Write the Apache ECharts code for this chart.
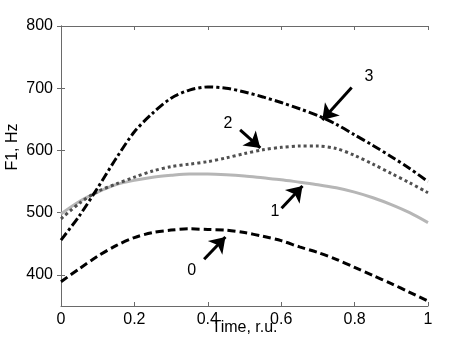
<!DOCTYPE html>
<html>
<head>
<meta charset="utf-8">
<script src="https://cdn.jsdelivr.net/npm/echarts@6/dist/echarts.min.js"></script>
<style>
  html, body { margin: 0; padding: 0; background: #fff; }
  #chart { width: 474px; height: 345px; }
</style>
</head>
<body>
<div id="chart"></div>
<script>
// Normalised time axis (relative units)
const timeRU = [0, 0.05, 0.1, 0.15, 0.2, 0.25, 0.3, 0.35, 0.4, 0.45, 0.5,
                0.55, 0.6, 0.65, 0.7, 0.75, 0.8, 0.85, 0.9, 0.95, 1.0];

// F1 trajectories, Hz
const f1Curve0 = [389, 410, 430, 447, 460, 468, 472, 474, 473, 472, 468,
                  462, 455, 445, 436, 425, 412, 399, 386, 372, 358];
const f1Curve1 = [498, 518, 533, 545, 552, 557, 560, 562, 562, 561, 559,
                  556, 553, 549, 545, 540, 533, 524, 513, 500, 484];
const f1Curve2 = [490, 515, 534, 546, 557, 567, 574, 578, 582, 588, 595,
                  601, 605, 607, 607, 603, 592, 578, 563, 548, 532];
const f1Curve3 = [456, 495, 540, 587, 630, 660, 684, 697, 702, 700, 694,
                  686, 677, 667, 656, 642, 625, 608, 590, 571, 550];

const yTicks = [400, 500, 600, 700, 800];

// Callouts: label point, arrow tail, arrow tip (data coordinates)
const callouts = [
  { name: '0', label: [0.356, 407], tail: [0.390, 425], tip: [0.448, 461] },
  { name: '1', label: [0.583, 501], tail: [0.601, 507], tip: [0.658, 543] },
  { name: '2', label: [0.455, 643], tail: [0.488, 633], tip: [0.543, 604] },
  { name: '3', label: [0.839, 718], tail: [0.792, 701], tip: [0.712, 649] }
];

const toPairs = ys => timeRU.map((t, i) => [t, ys[i]]);
const font = '"Liberation Sans", Arial, Helvetica, sans-serif';

function calloutMarks(c) {
  return {
    markLine: {
      silent: true,
      symbol: ['none', 'arrow'],
      symbolSize: 15,
      label: { show: false },
      lineStyle: { color: '#000', width: 3, type: 'solid' },
      emphasis: { disabled: true },
      data: [[{ coord: c.tail }, { coord: c.tip }]]
    },
    markPoint: {
      silent: true,
      symbol: 'circle',
      symbolSize: 0,
      label: {
        show: true, position: 'inside', formatter: '{b}',
        color: '#000', fontFamily: font, fontSize: 16
      },
      data: [{ name: c.name, coord: c.label }]
    }
  };
}

const boxAxisLine = { show: true, lineStyle: { color: '#6a6a6a', width: 1 } };
const boxTick = { show: true, inside: true, length: 4, lineStyle: { color: '#6a6a6a' } };

const chart = echarts.init(document.getElementById('chart'), null, { renderer: 'canvas' });

chart.setOption({
  animation: false,
  backgroundColor: '#fff',
  grid: { left: 61, right: 46, top: 26, bottom: 39, outerBoundsMode: 'none', containLabel: false },
  xAxis: [
    {
      type: 'value', min: 0, max: 1, interval: 0.2,
      position: 'bottom',
      name: 'Time, r.u.', nameLocation: 'middle', nameGap: 14, nameMoveOverlap: false,
      nameTextStyle: { color: '#000', fontFamily: font, fontSize: 16 },
      axisLine: boxAxisLine, axisTick: boxTick,
      splitLine: { show: false },
      axisLabel: {
        color: '#000', fontFamily: font, fontSize: 16, margin: 6,
        formatter: v => String(+v.toFixed(1))
      }
    },
    {
      type: 'value', min: 0, max: 1, interval: 0.2,
      position: 'top',
      axisLine: boxAxisLine, axisTick: boxTick,
      splitLine: { show: false }, axisLabel: { show: false }
    }
  ],
  yAxis: [
    {
      type: 'value', min: 350, max: 800,
      position: 'left',
      name: 'F1, Hz', nameLocation: 'middle', nameGap: 40, nameMoveOverlap: false,
      nameTextStyle: { color: '#000', fontFamily: font, fontSize: 16, padding: [0, 0, 0, 38] },
      axisLine: boxAxisLine,
      axisTick: Object.assign({ customValues: yTicks }, boxTick),
      splitLine: { show: false },
      axisLabel: {
        customValues: yTicks,
        color: '#000', fontFamily: font, fontSize: 16, margin: 8
      }
    },
    {
      type: 'value', min: 350, max: 800,
      position: 'right',
      axisLine: boxAxisLine,
      axisTick: Object.assign({ customValues: yTicks }, boxTick),
      splitLine: { show: false }, axisLabel: { show: false }
    }
  ],
  series: [
    Object.assign({
      name: '0', type: 'line', smooth: 0.3, symbol: 'none', z: 3,
      data: toPairs(f1Curve0),
      lineStyle: { color: '#000', width: 3, type: [8, 4] }
    }, calloutMarks(callouts[0])),
    Object.assign({
      name: '1', type: 'line', smooth: 0.3, symbol: 'none', z: 2,
      data: toPairs(f1Curve1),
      lineStyle: { color: '#b6b6b6', width: 3, type: 'solid' }
    }, calloutMarks(callouts[1])),
    Object.assign({
      name: '2', type: 'line', smooth: 0.3, symbol: 'none', z: 3,
      data: toPairs(f1Curve2),
      lineStyle: { color: '#505050', width: 3, type: [3, 3] }
    }, calloutMarks(callouts[2])),
    Object.assign({
      name: '3', type: 'line', smooth: 0.3, symbol: 'none', z: 4,
      data: toPairs(f1Curve3),
      lineStyle: { color: '#000', width: 3, type: [9, 3, 3, 3] }
    }, calloutMarks(callouts[3]))
  ]
});
</script>
</body>
</html>
